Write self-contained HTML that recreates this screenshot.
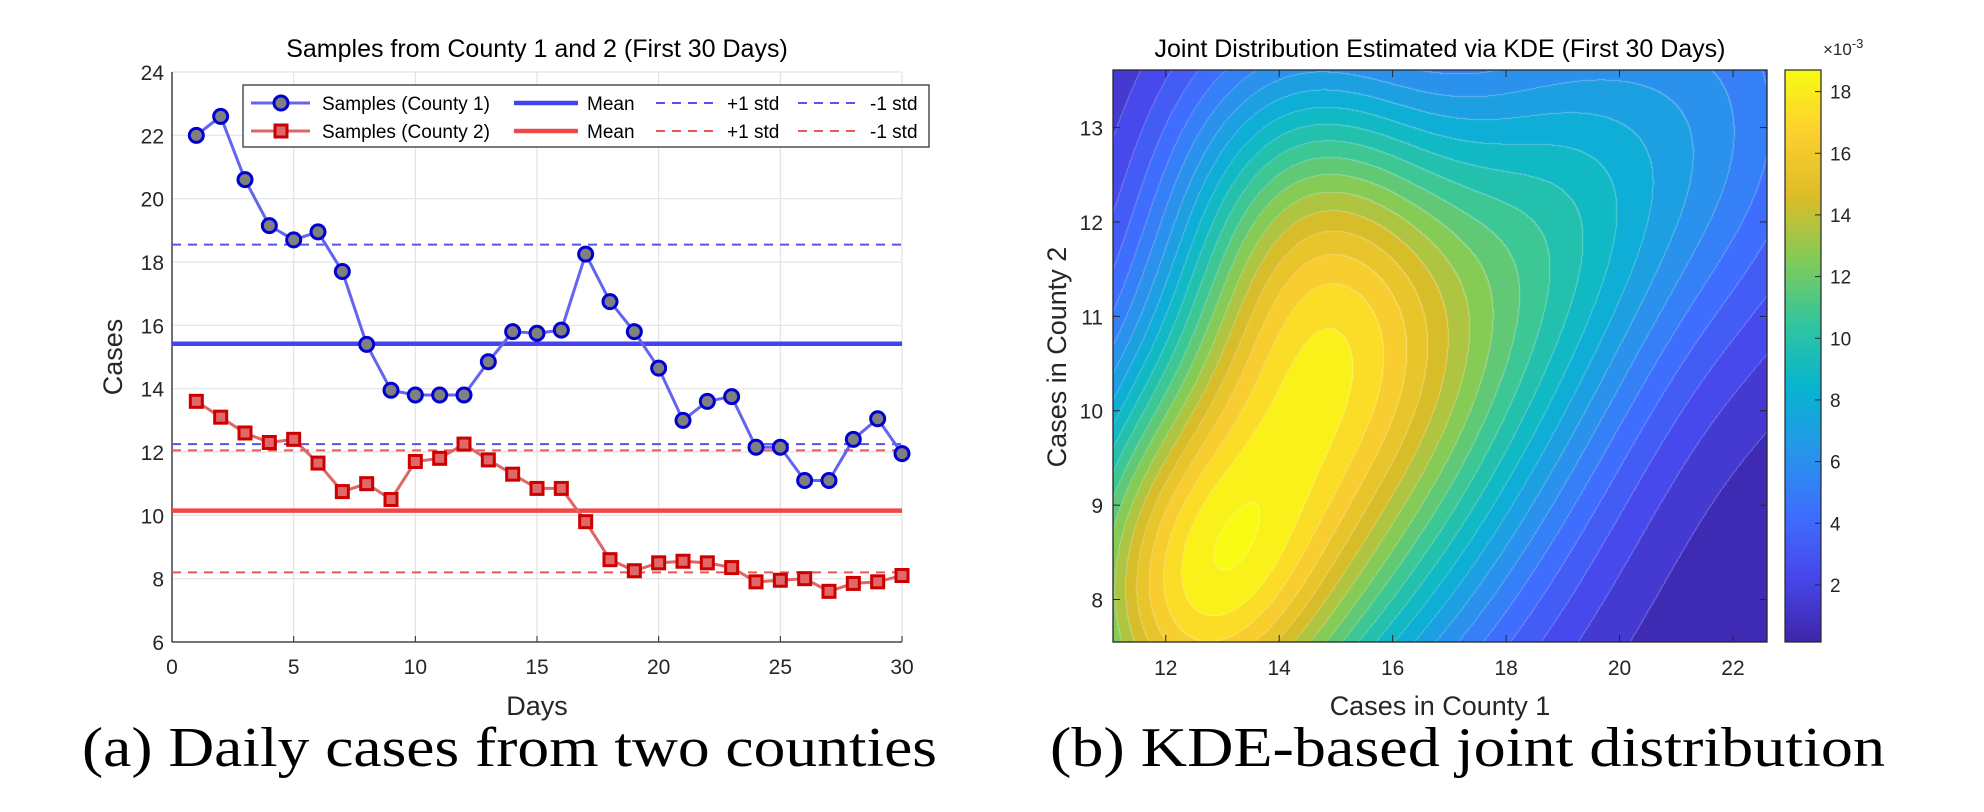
<!DOCTYPE html>
<html><head><meta charset="utf-8"><style>
html,body{margin:0;padding:0;background:#fff;width:1984px;height:812px;overflow:hidden;position:relative}
svg{position:absolute;left:0;top:0}
canvas{position:absolute}
</style></head><body>
<canvas id="kde" width="654" height="572" style="left:1113px;top:70px;width:654px;height:572px"></canvas>
<canvas id="cb" width="36" height="572" style="left:1785px;top:70px;width:36px;height:572px"></canvas>
<svg id="s" width="1984" height="812" xmlns="http://www.w3.org/2000/svg" font-family="Liberation Sans, sans-serif"></svg>
<script>
(function(){
var c1=[22,22.6,20.6,19.15,18.7,18.95,17.7,15.4,13.95,13.8,13.8,13.8,14.85,15.8,15.75,15.85,18.25,16.75,15.8,14.65,13.0,13.6,13.75,12.15,12.15,11.1,11.1,12.4,13.05,11.95];
var c2=[13.6,13.1,12.6,12.3,12.4,11.65,10.75,11.0,10.5,11.7,11.8,12.25,11.75,11.3,10.85,10.85,9.8,8.6,8.25,8.5,8.55,8.5,8.35,7.9,7.95,8.0,7.6,7.85,7.9,8.1];
var S=document.getElementById('s');var h='';
var X0=172,X1=902,Y0=72,Y1=642;
var px=function(d){return X0+(X1-X0)*d/30;}, py=function(v){return Y1-(Y1-Y0)*(v-6)/18;};
for(var d=0;d<=30;d+=5){h+='<line x1="'+px(d)+'" y1="'+Y0+'" x2="'+px(d)+'" y2="'+Y1+'" stroke="#e3e3e3" stroke-width="1.2"/>';
h+='<text x="'+px(d)+'" y="'+(Y1+32)+'" font-size="21" text-anchor="middle" fill="#262626">'+d+'</text>';
h+='<line x1="'+px(d)+'" y1="'+Y1+'" x2="'+px(d)+'" y2="'+(Y1-6)+'" stroke="#262626"/>';}
for(var v=6;v<=24;v+=2){h+='<line x1="'+X0+'" y1="'+py(v)+'" x2="'+X1+'" y2="'+py(v)+'" stroke="#e3e3e3" stroke-width="1.2"/>';
h+='<text x="'+(X0-8)+'" y="'+(py(v)+8)+'" font-size="21" text-anchor="end" fill="#262626">'+v+'</text>';}
h+='<line x1="'+X0+'" y1="'+Y0+'" x2="'+X0+'" y2="'+Y1+'" stroke="#262626" stroke-width="1.3"/><line x1="'+X0+'" y1="'+Y1+'" x2="'+X1+'" y2="'+Y1+'" stroke="#262626" stroke-width="1.3"/>';
function hl(v,col,dash,w){return '<line x1="'+X0+'" y1="'+py(v)+'" x2="'+X1+'" y2="'+py(v)+'" stroke="'+col+'" stroke-width="'+w+'" '+(dash?'stroke-dasharray="9 7"':'')+'/>';}
h+=hl(18.55,'#5555ee',1,2)+hl(12.25,'#5555ee',1,2)+hl(12.05,'#ee5555',1,2)+hl(8.2,'#ee5555',1,2);
h+=hl(15.42,'#4444ee',0,4.5)+hl(10.15,'#f04848',0,4.5);
var p1=c1.map(function(v,i){return px(i+1)+','+py(v);}).join(' '),p2=c2.map(function(v,i){return px(i+1)+','+py(v);}).join(' ');
h+='<polyline points="'+p1+'" fill="none" stroke="#6464ee" stroke-width="3"/>';
h+='<polyline points="'+p2+'" fill="none" stroke="#dd6666" stroke-width="3"/>';
c1.forEach(function(v,i){h+='<circle cx="'+px(i+1)+'" cy="'+py(v)+'" r="7" fill="#808080" stroke="#0000d0" stroke-width="3"/>';});
c2.forEach(function(v,i){h+='<rect x="'+(px(i+1)-6)+'" y="'+(py(v)-6)+'" width="12" height="12" fill="#e06868" stroke="#cc0000" stroke-width="3"/>';});
h+='<rect x="243" y="85" width="686" height="62" fill="#fff" stroke="#262626" stroke-width="1.2"/>';
var r1=103,r2=131;
h+='<line x1="251" y1="'+r1+'" x2="310" y2="'+r1+'" stroke="#6464ee" stroke-width="3"/><circle cx="281" cy="'+r1+'" r="7" fill="#808080" stroke="#0000d0" stroke-width="3"/>';
h+='<line x1="251" y1="'+r2+'" x2="310" y2="'+r2+'" stroke="#dd6666" stroke-width="3"/><rect x="275" y="'+(r2-6)+'" width="12" height="12" fill="#e06868" stroke="#cc0000" stroke-width="3"/>';
h+='<text x="322" y="'+(r1+7)+'" font-size="19">Samples (County 1)</text><text x="322" y="'+(r2+7)+'" font-size="19">Samples (County 2)</text>';
h+='<line x1="514" y1="'+r1+'" x2="578" y2="'+r1+'" stroke="#4444ee" stroke-width="4.5"/><line x1="514" y1="'+r2+'" x2="578" y2="'+r2+'" stroke="#f04848" stroke-width="4.5"/>';
h+='<text x="587" y="'+(r1+7)+'" font-size="19">Mean</text><text x="587" y="'+(r2+7)+'" font-size="19">Mean</text>';
h+='<line x1="656" y1="'+r1+'" x2="716" y2="'+r1+'" stroke="#5555ee" stroke-width="2" stroke-dasharray="9 7"/><line x1="656" y1="'+r2+'" x2="716" y2="'+r2+'" stroke="#ee5555" stroke-width="2" stroke-dasharray="9 7"/>';
h+='<text x="727" y="'+(r1+7)+'" font-size="19">+1 std</text><text x="727" y="'+(r2+7)+'" font-size="19">+1 std</text>';
h+='<line x1="798" y1="'+r1+'" x2="858" y2="'+r1+'" stroke="#5555ee" stroke-width="2" stroke-dasharray="9 7"/><line x1="798" y1="'+r2+'" x2="858" y2="'+r2+'" stroke="#ee5555" stroke-width="2" stroke-dasharray="9 7"/>';
h+='<text x="870" y="'+(r1+7)+'" font-size="19">-1 std</text><text x="870" y="'+(r2+7)+'" font-size="19">-1 std</text>';
h+='<text x="537" y="57" font-size="25" text-anchor="middle">Samples from County 1 and 2 (First 30 Days)</text>';
h+='<text x="537" y="715" font-size="27" text-anchor="middle" fill="#262626">Days</text>';
h+='<text transform="translate(122,357) rotate(-90)" font-size="27" text-anchor="middle" fill="#262626">Cases</text>';
h+='<text x="82" y="766" font-size="56" font-family="Liberation Serif, serif" textLength="855" lengthAdjust="spacingAndGlyphs">(a) Daily cases from two counties</text>';
h+='<text x="1050" y="766" font-size="56" font-family="Liberation Serif, serif" textLength="835" lengthAdjust="spacingAndGlyphs">(b) KDE-based joint distribution</text>';
var RX0=1113,RX1=1767,RY0=70,RY1=642,xa=11.07,xb=22.6,ya=7.55,yb=13.61;
function rx(v){return RX0+(RX1-RX0)*(v-xa)/(xb-xa);} function ry(v){return RY1-(RY1-RY0)*(v-ya)/(yb-ya);}
h+='<rect x="'+RX0+'" y="'+RY0+'" width="'+(RX1-RX0)+'" height="'+(RY1-RY0)+'" fill="none" stroke="#262626" stroke-width="1.3"/>';
for(var v=12;v<=22;v+=2){h+='<line x1="'+rx(v)+'" y1="'+RY1+'" x2="'+rx(v)+'" y2="'+(RY1-7)+'" stroke="#262626"/><line x1="'+rx(v)+'" y1="'+RY0+'" x2="'+rx(v)+'" y2="'+(RY0+7)+'" stroke="#262626"/><text x="'+rx(v)+'" y="'+(RY1+33)+'" font-size="21" text-anchor="middle" fill="#262626">'+v+'</text>';}
for(var v=8;v<=13;v++){h+='<line x1="'+RX0+'" y1="'+ry(v)+'" x2="'+(RX0+7)+'" y2="'+ry(v)+'" stroke="#262626"/><line x1="'+RX1+'" y1="'+ry(v)+'" x2="'+(RX1-7)+'" y2="'+ry(v)+'" stroke="#262626"/><text x="'+(RX0-10)+'" y="'+(ry(v)+8)+'" font-size="21" text-anchor="end" fill="#262626">'+v+'</text>';}
h+='<text x="1440" y="57" font-size="25" text-anchor="middle">Joint Distribution Estimated via KDE (First 30 Days)</text>';
h+='<text x="1440" y="715" font-size="27" text-anchor="middle" fill="#262626">Cases in County 1</text>';
h+='<text transform="translate(1066,357) rotate(-90)" font-size="27" text-anchor="middle" fill="#262626">Cases in County 2</text>';
function cy(v){return RY1-(RY1-RY0)*(v-0.15)/(18.7-0.15);}
h+='<rect x="1785" y="70" width="36" height="572" fill="none" stroke="#262626" stroke-width="1.2"/>';
for(var v=2;v<=18;v+=2){h+='<line x1="1821" y1="'+cy(v)+'" x2="1815" y2="'+cy(v)+'" stroke="#262626"/><text x="1830" y="'+(cy(v)+7)+'" font-size="19" fill="#262626">'+v+'</text>';}
h+='<text x="1823" y="55" font-size="17" fill="#262626">×10<tspan dy="-7" font-size="13">-3</tspan></text>';
S.innerHTML=h;
var P=[[.2422,.1504,.6603],[.2803,.2782,.9221],[.2440,.4358,.9988],[.1540,.5902,.9218],[.0297,.7082,.8163],[.1938,.7758,.6251],[.5044,.7993,.3480],[.8634,.7406,.1596],[.9892,.8136,.1885],[.9769,.9839,.0805]];
function par(t){t=Math.max(0,Math.min(1,t))*9;var i=Math.min(8,Math.floor(t)),f=t-i;return P[i].map(function(a,k){return 255*(a+(P[i+1][k]-a)*f);});}
var h1=1.7,h2=1.7,W=654,H=572;
var D=new Float32Array(W*H);var mx=0;
for(var j=0;j<H;j++){var yv=yb-(yb-ya)*j/(H-1);for(var i=0;i<W;i++){var xv=xa+(xb-xa)*i/(W-1);var s=0;
for(var k=0;k<30;k++){var a=(xv-c1[k])/h1,b=(yv-c2[k])/h2;s+=Math.exp(-.5*(a*a+b*b));}D[j*W+i]=s;if(s>mx)mx=s;}}
var vtop=18.7,vmin=0.15,NL=20;
var L=new Int16Array(W*H);
for(var q=0;q<W*H;q++){var vv=D[q]/mx*18.85;L[q]=Math.min(NL,Math.floor(vv/(vtop/NL)));}
var ctx=document.getElementById('kde').getContext('2d');var im=ctx.createImageData(W,H);
for(var j=0;j<H;j++)for(var i=0;i<W;i++){var q=j*W+i;var lv=L[q];var col=par(((lv+0.5)*vtop/NL-vmin)/(vtop-vmin));
var edge=(i<W-1&&L[q+1]!=lv)||(j<H-1&&L[q+W]!=lv);if(edge)col=col.map(function(c){return c+(255-c)*0.3;});
im.data[q*4]=col[0];im.data[q*4+1]=col[1];im.data[q*4+2]=col[2];im.data[q*4+3]=255;}
ctx.putImageData(im,0,0);
var cc=document.getElementById('cb').getContext('2d');
for(var j=0;j<H;j++){var c=par(1-j/(H-1));cc.fillStyle='rgb('+(c[0]|0)+','+(c[1]|0)+','+(c[2]|0)+')';cc.fillRect(0,j,36,1);}
})();
</script>
</body></html>
